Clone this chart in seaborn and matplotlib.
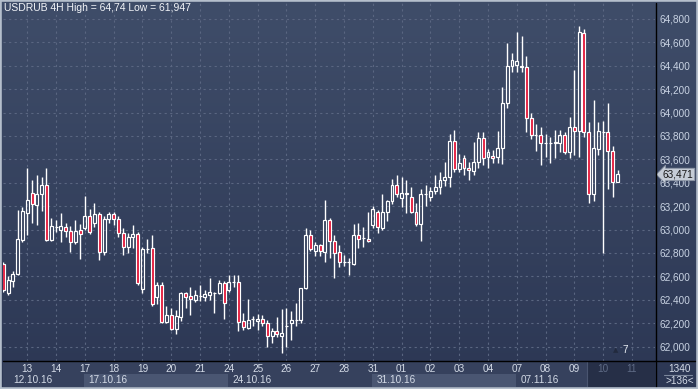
import numpy as np
import pandas as pd
import seaborn as sns
import matplotlib
matplotlib.use('Agg')
import matplotlib.pyplot as plt
from matplotlib.colors import LinearSegmentedColormap
from matplotlib.lines import Line2D
from matplotlib.patches import Rectangle
from matplotlib.transforms import blended_transform_factory

# 4H candles, USDRUB, 12.10.16 - 10.11.16 (6 candles per day)
opens = [
    62.71, 62.46, 62.56, 62.62, 62.91,
    63.14, 63.31, 63.21, 63.30, 63.38, 62.91,
    63.02, 63.00, 63.02, 62.99, 62.89, 63.00,
    63.01, 63.12, 63.06, 63.13, 62.81, 63.09,
    63.13, 63.09, 62.97, 62.85, 62.94, 62.96,
    62.49, 62.83, 62.84, 62.42, 62.53, 62.21,
    62.27, 62.15, 62.25, 62.46, 62.43, 62.40,
    62.43, 62.42, 62.44, 62.46, 62.46, 62.54,
    62.48, 62.55, 62.55, 62.22, 62.16, 62.24,
    62.22, 62.24, 62.20, 62.09, 62.13, 62.09,
    62.18, 62.20, 62.23, 62.23, 62.50, 62.95,
    62.82, 62.87, 62.81, 63.08, 62.90, 62.81,
    62.72, 62.72, 62.71, 62.95, 62.93, 62.92,
    63.04, 63.15, 63.01, 63.15, 63.24, 63.38,
    63.27, 63.31, 63.28, 63.15, 63.05, 63.30,
    63.28, 63.33, 63.36, 63.42, 63.45, 63.76,
    63.52, 63.61, 63.53, 63.50, 63.58, 63.78,
    63.62, 63.63, 63.62, 63.70, 64.08, 64.40,
    64.41, 64.40, 64.39, 63.95, 63.81, 63.81,
    63.74, 63.74, 63.74, 63.74, 63.81, 63.66,
    63.88, 63.84, 64.68, 63.83, 63.30, 63.69,
    63.83, 63.83, 63.67, 63.41,
]
highs = [
    62.72, 62.60, 62.65, 63.17, 63.19,
    63.53, 63.42, 63.47, 63.45, 63.53, 63.10,
    63.08, 63.14, 63.06, 63.03, 63.08, 63.05,
    63.29, 63.18, 63.23, 63.15, 63.12, 63.15,
    63.15, 63.12, 63.01, 62.97, 63.04, 62.98,
    62.85, 62.92, 62.95, 62.55, 62.55, 62.35,
    62.33, 62.31, 62.47, 62.47, 62.51, 62.48,
    62.53, 62.48, 62.59, 62.47, 62.57, 62.56,
    62.61, 62.61, 62.61, 62.29, 62.41, 62.26,
    62.28, 62.27, 62.23, 62.16, 62.25, 62.32,
    62.33, 62.30, 62.37, 62.50, 63.01, 63.00,
    62.89, 62.88, 63.25, 63.10, 62.95, 62.87,
    62.78, 62.76, 63.05, 63.06, 63.02, 63.15,
    63.20, 63.17, 63.30, 63.25, 63.43, 63.47,
    63.45, 63.42, 63.36, 63.23, 63.35, 63.38,
    63.36, 63.47, 63.49, 63.58, 63.82, 63.85,
    63.65, 63.64, 63.58, 63.75, 63.83, 63.83,
    63.69, 63.68, 63.84, 64.22, 64.59, 64.51,
    64.69, 64.65, 64.48, 64.00, 63.90, 63.88,
    63.82, 63.79, 63.85, 63.85, 63.83, 63.96,
    64.36, 64.74, 64.71, 63.92, 64.11, 63.92,
    63.93, 64.08, 63.71, 63.51,
]
lows = [
    62.47, 62.44, 62.51, 62.61, 62.89,
    62.95, 63.06, 63.04, 63.16, 62.90, 62.90,
    62.98, 62.89, 62.94, 62.81, 62.88, 62.75,
    63.00, 62.96, 63.02, 62.74, 62.78, 63.06,
    63.04, 62.94, 62.78, 62.80, 62.84, 62.53,
    62.46, 62.80, 62.35, 62.36, 62.20, 62.20,
    62.14, 62.11, 62.22, 62.33, 62.27, 62.38,
    62.39, 62.39, 62.40, 62.29, 62.45, 62.24,
    62.47, 62.51, 62.13, 62.14, 62.15, 62.18,
    62.14, 62.18, 62.00, 62.03, 62.08, 61.947,
    62.00, 62.06, 62.18, 62.20, 62.49, 62.82,
    62.77, 62.77, 62.72, 62.76, 62.59, 62.68,
    62.69, 62.61, 62.70, 62.84, 62.85, 62.89,
    63.01, 62.97, 63.00, 63.07, 63.22, 63.28,
    63.19, 63.14, 63.14, 63.03, 62.90, 63.20,
    63.24, 63.30, 63.30, 63.37, 63.36, 63.49,
    63.49, 63.47, 63.42, 63.47, 63.53, 63.55,
    63.53, 63.57, 63.57, 63.56, 64.04, 64.35,
    64.35, 64.35, 63.83, 63.77, 63.67, 63.55,
    63.62, 63.57, 63.61, 63.66, 63.65, 63.61,
    63.64, 63.62, 63.79, 63.23, 63.24, 63.64,
    62.80, 63.35, 63.28, 63.41,
]
closes = [
    62.48, 62.57, 62.62, 62.92, 63.16,
    63.25, 63.22, 63.30, 63.38, 62.91, 63.03,
    63.02, 63.03, 62.99, 62.89, 62.99, 62.96,
    63.12, 62.98, 63.13, 62.81, 63.09, 63.13,
    63.09, 62.97, 62.85, 62.94, 62.96, 62.54,
    62.83, 62.83, 62.36, 62.53, 62.21, 62.27,
    62.15, 62.26, 62.46, 62.42, 62.41, 62.44,
    62.43, 62.45, 62.47, 62.46, 62.54, 62.37,
    62.55, 62.55, 62.21, 62.17, 62.23, 62.24,
    62.24, 62.20, 62.09, 62.13, 62.11, 62.12,
    62.18, 62.23, 62.23, 62.50, 62.95, 62.83,
    62.87, 62.82, 63.08, 62.90, 62.80, 62.72,
    62.72, 62.72, 62.95, 62.92, 62.93, 62.90,
    63.18, 63.02, 63.15, 63.24, 63.38, 63.30,
    63.31, 63.30, 63.15, 63.05, 63.30, 63.30,
    63.33, 63.36, 63.42, 63.45, 63.76, 63.52,
    63.57, 63.53, 63.51, 63.58, 63.78, 63.61,
    63.66, 63.61, 63.70, 64.08, 64.40, 64.45,
    64.44, 64.39, 63.95, 63.81, 63.81, 63.74,
    63.74, 63.74, 63.75, 63.81, 63.66, 63.88,
    63.84, 64.69, 63.83, 63.30, 63.70, 63.84,
    63.83, 63.67, 63.41, 63.471,
]

day_labels = ['13', '14', '17', '18', '19', '20', '21', '24', '25', '26', '27',
              '28', '31', '01', '02', '03', '04', '07', '08', '09', '10', '11']
day_start = [5 + 6 * k for k in range(len(day_labels))]
week_labels = ['12.10.16', '17.10.16', '24.10.16', '31.10.16', '07.11.16']
week_start = [-1, 17, 47, 77, 107]
price_ticks = [62.0, 62.2, 62.4, 62.6, 62.8, 63.0, 63.2, 63.4,
               63.6, 63.8, 64.0, 64.2, 64.4, 64.6, 64.8]
last_price = 63.471

df = pd.DataFrame({'open': opens, 'high': highs, 'low': lows, 'close': closes})
df['pos'] = np.arange(len(df))
df['top'] = df[['open', 'close']].max(axis=1)
df['bot'] = df[['open', 'close']].min(axis=1)
df['down'] = df['close'] < df['open']

sns.set_style('dark')
plt.rcParams['font.family'] = ['Liberation Sans', 'DejaVu Sans']

W, H = 698, 389
fig = plt.figure(figsize=(W / 100, H / 100), dpi=100)

# gradient background for whole window
bg = fig.add_axes([0, 0, 1, 1], zorder=0)
cmap = LinearSegmentedColormap.from_list('bg', ['#3f4d69', '#2c3754'])
bg.imshow(np.linspace(0, 1, 256).reshape(-1, 1), aspect='auto', cmap=cmap,
          extent=(0, 1, 0, 1))
bg.axis('off')

xlim = (-0.06, 135.8)
ax = fig.add_axes([3 / W, 28 / H, 652 / W, 358 / H], zorder=2)
ax.patch.set_alpha(0)
ax.set_xlim(*xlim)
ax.set_ylim(61.877, 64.936)
for s in ax.spines.values():
    s.set_visible(False)

# grid
ax.set_xticks(day_start)
ax.set_xticklabels([])
ax.set_yticks(price_ticks)
ax.set_yticklabels([f'{v:.3f}'.replace('.', ',') for v in price_ticks])
ax.yaxis.tick_right()
ax.tick_params(axis='both', length=0)
ax.tick_params(axis='y', pad=3, labelsize=7.2, labelcolor='#c9d3e3')
ax.grid(True, color='#5a6681', lw=0.8, linestyle=(0, (2, 3)))

# candles
ax.vlines(df['pos'], df['top'], df['high'], color='white', lw=1.0, zorder=3)
ax.vlines(df['pos'], df['low'], df['bot'], color='white', lw=1.0, zorder=3)
face = np.where(df['down'], '#e3183a', 'none')
ax.bar(df['pos'], df['top'] - df['bot'], bottom=df['bot'], width=0.62,
       color=face, edgecolor='white', linewidth=0.85, zorder=4)

# last price tag
tr = blended_transform_factory(ax.transAxes, ax.transData)
ax.text(1.012, last_price, f'{last_price:.3f}'.replace('.', ','), transform=tr,
        ha='left', va='center', fontsize=7.2, color='#151515', zorder=6,
        clip_on=False,
        bbox=dict(boxstyle='larrow,pad=0.12', fc='#c5ccd6', ec='#8a94a4', lw=0.6))

# small marker at the bottom
ax.text(0.939, 0.022, '\u25b2', transform=ax.transAxes, ha='center', va='bottom',
        fontsize=5, color='#222a3e', family='DejaVu Sans', zorder=5)
ax.text(0.955, 0.018, '7', transform=ax.transAxes, ha='center', va='bottom',
        fontsize=7.2, color='#e8ecf2', zorder=5)

# bottom time axis panel
bx = fig.add_axes([3 / W, 2 / H, 652 / W, 26 / H], zorder=1)
bx.set_facecolor('#36415d')
bx.set_xlim(*xlim)
bx.set_ylim(0, 26)
bx.set_xticks([])
bx.set_yticks([])
for s in bx.spines.values():
    s.set_visible(False)
for k, (lab, x0) in enumerate(zip(week_labels, week_start)):
    if k % 2 == 1:
        bx.axvspan(x0 - 0.1, week_start[k + 1] - 0.1, ymin=0, ymax=13 / 26,
                   color='#4a5672', lw=0)
    bx.text(max(x0, 1.3) + 0.7, 7, lab, ha='left', va='center', fontsize=7.2,
            color='#d4dbe7')
bx.axvspan(121.6, xlim[1], color='#262f47', lw=0)
bx.axvline(121.6, color='#4a5570', lw=0.8)
for lab, x0 in zip(day_labels, day_start):
    c = '#5f6b86' if x0 >= 125 else '#d4dbe7'
    bx.text(x0, 18, lab, ha='center', va='center', fontsize=7.2, color=c)

# corner box
fig.text(680 / W, 1 - 369 / H, '1340', ha='center', va='center', fontsize=7.2,
         color='#d4dbe7')
fig.add_artist(Line2D([664 / W, 692 / W], [1 - 375 / H] * 2, color='#7c879c',
                      lw=0.8))
fig.text(680 / W, 1 - 381 / H, '>136<', ha='center', va='center', fontsize=7.2,
         color='#d4dbe7')

# panel separators
fig.add_artist(Line2D([655.5 / W] * 2, [1 - 3 / H, 2 / H], color='black', lw=1.0,
                      zorder=5))
fig.add_artist(Line2D([3 / W, 1 - 2 / W], [1 - 361 / H] * 2, color='black',
                      lw=1.0, zorder=5))

# title
fig.text(4 / W, 1 - 3 / H, 'USDRUB 4H High = 64,74 Low = 61,947', ha='left',
         va='top', fontsize=7.5, color='#f2f4f8')

# window frame
fig.add_artist(Rectangle((0, 0), 1, 1, transform=fig.transFigure, fill=False,
                         ec='#b5bfcc', lw=2.6, zorder=10))

fig.savefig('out.png', dpi=100)
